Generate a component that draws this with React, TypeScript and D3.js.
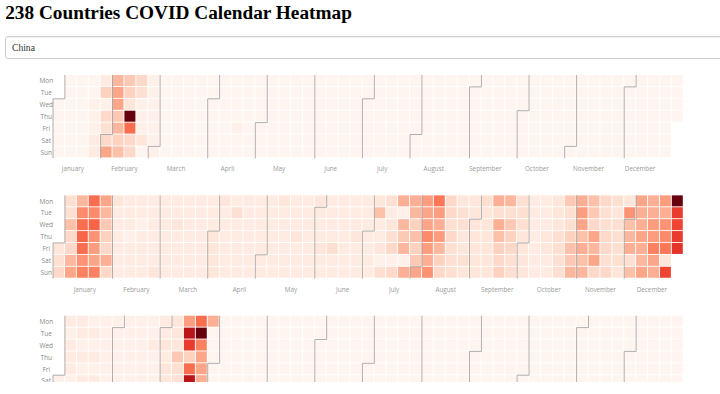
import React from 'react';
import * as d3 from 'd3';

// labels
const title = '238 Countries COVID Calendar Heatmap';
const country = 'China';
const years = [2020, 2021, 2022];
const weekdays = ['Mon', 'Tue', 'Wed', 'Thu', 'Fri', 'Sat', 'Sun'];
const months = ['January', 'February', 'March', 'April', 'May', 'June', 'July',
  'August', 'September', 'October', 'November', 'December'];

// daily new cases (base 36, 0..z).
// one string per Monday-based week, Mon..Sun; '.' = day outside the year
const weeks2020 = [
  '..00000', '0000000', '0000000', '0011122', '261545b',
  '9bb7968', '763zh55', '5411130', '1111111',
  '0000000', '0000000', '0000000', '0000000', '0000000',
  '0000000', '0000100', '0000000', '0000000', '0000000',
  '0000000', '0000000', '0000000', '0000000', '0000000', '0000000', '0000000',
  '0000000', '0000000', '0000000', '0000000', '0000000', '0000000', '0000000',
  '0000000', '0000000', '0000000', '0000000', '0000000', '0000000', '0000000',
  '0000000', '0000000', '0000000', '0000000', '0000000', '0000000', '0000000',
  '0000000', '0000000', '0000000', '0000000', '0000000', '0000...',
];
const weeks2021 = [
  '....345', '448559b', '9ehihdf', 'heidcbf', 'b9765a5',
  '3222222', '2221222', '2212222', '2222223',
  '2222222', '2232222', '2222222', '2222222', '2223333',
  '3222222', '2422222', '2222222', '2222222',
  '2222222', '3222222', '2223222', '2222222',
  '3222322', '2222422', '2222222', '2223222', '2222222',
  '3822314', '4234515', 'a19791a', 'a96867b',
  'cbbecad', 'gcac965', '5545444', '3443343', '3333333',
  '4333333', 'a4a8656', '9476544', '4443333',
  '2222222', '2223322', '3334444', '7446879',
  'acb8a89', '875b9b5', '5445545', '4344443', '3d89a48',
  'baaba9b', 'aaccfba', 'cadeg3l', 'zmlmn..',
];
const weeks2022 = [
  '.....11', '2122212', '2212122', '1212121', '1111111',
  '1111111', '1111111', '1111112', '1121111',
  '2232333', '3337444', 'csm6hso', 'hzfbba9', 'a000000',
  '0000000', '0000000', '0000000', '0000000',
  '0000000', '0000000', '0000000', '0000000', '0000000',
  '0000000', '0000000', '0000000', '0000000',
  '0000000', '0000000', '0000000', '0000000', '0000000',
  '0000000', '0000000', '0000000', '0000000',
  '0000000', '0000000', '0000000', '0000000',
  '0000000', '0000000', '0000000', '0000000',
  '0000000', '0000000', '0000000', '0000000', '0000000',
  '0000000', '0000000', '0000000', '000000.',
];
const weeksByYear = [weeks2020, weeks2021, weeks2022];

const cellSize = 11.9;
const gridLeft = 53;
const firstTop = 75;
const yearStep = 120.35;
const labelFont = "'Open Sans', sans-serif";

function Year({ year, weeks, top }: { year: number; weeks: string[]; top: number }) {
  const start = new Date(year, 0, 1);
  const end = new Date(year + 1, 0, 1);
  const days = d3.timeDays(start, end);
  const col = (d: Date) => d3.timeMonday.count(start, d);
  const row = (d: Date) => (d.getDay() + 6) % 7;
  const value = (d: Date) => parseInt(weeks[col(d)][row(d)], 36);

  const x = d3.scaleLinear().domain([0, 53]).range([gridLeft, gridLeft + 53 * cellSize]);
  const y = d3.scaleLinear().domain([0, 7]).range([top, top + 7 * cellSize]);
  const color = d3.scaleSequential(d3.interpolateReds).domain([0, d3.max(days, value) as number]);

  const pathMonth = (t: Date) => {
    const d = row(t);
    const w = col(t);
    return d === 0
      ? `M${x(w)},${y(0)}V${y(7)}`
      : `M${x(w + 1)},${y(0)}V${y(d)}H${x(w)}V${y(7)}`;
  };
  // labels follow the ISO week numbering of the year
  const week1 = row(start) <= 3 ? 0 : 1;
  const labelX = (i: number) => x((i + 0.5) * 52 / 12 - 0.5 + week1);

  return (
    <g>
      <g fontFamily={labelFont} fontSize={6.5} fill="#8a8a8a" textAnchor="middle">
        {weekdays.map((w, i) => (
          <text key={w} x={46.3} y={y(i + 0.5)} dy="0.35em">{w}</text>
        ))}
      </g>
      <g>
        {days.map(d => (
          <rect key={+d} x={x(col(d))} y={y(row(d))} width={cellSize - 0.9} height={cellSize - 0.9}
            fill={color(value(d))} />
        ))}
      </g>
      <g fill="none" stroke="#9c9c9c" strokeWidth={0.8}>
        {d3.timeMonths(start, end).map(m => (
          <path key={+m} d={pathMonth(m)} />
        ))}
      </g>
      <g fontFamily={labelFont} fontSize={6.3} fill="#9a9a9a" textAnchor="middle">
        {months.map((m, i) => (
          <text key={m} x={labelX(i)} y={y(7) + 13}>{m}</text>
        ))}
      </g>
    </g>
  );
}

export default function App() {
  return (
    <div style={{ position: 'absolute', left: 0, top: 0, width: 720, height: 382, overflow: 'hidden', background: '#fff' }}>
      <svg width={720} height={382} style={{ position: 'absolute', left: 0, top: 0 }}>
        <text x={5.2} y={18.5} fontFamily="'Liberation Serif', 'Times New Roman', serif" fontWeight="bold"
          fontSize={19.3} fill="#000">{title}</text>
        {years.map((yr, i) => (
          <Year key={yr} year={yr} weeks={weeksByYear[i]} top={firstTop + i * yearStep} />
        ))}
      </svg>
      <select defaultValue={country}
        style={{
          position: 'absolute', left: 5, top: 36, width: 740, height: 22.5, boxSizing: 'border-box',
          border: '1px solid #cfcfcf', borderRadius: 3, background: '#fff', appearance: 'none',
          boxShadow: 'inset 0 1px 1px rgba(0,0,0,0.06)', paddingLeft: 6,
          fontFamily: "'Liberation Serif', 'Times New Roman', serif", fontSize: 9.6, color: '#333',
        }}>
        <option value={country}>{country}</option>
      </select>
    </div>
  );
}
